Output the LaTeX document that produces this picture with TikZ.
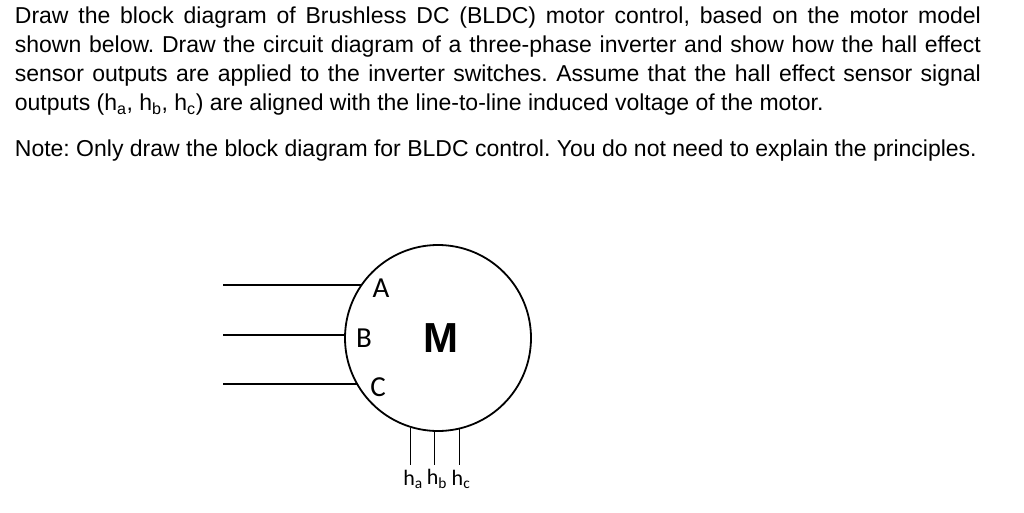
\documentclass[tikz,border=0pt]{standalone}
\usepackage{fontspec}
\setmainfont{Liberation Sans}
\newfontfamily\calib{Carlito}
\usetikzlibrary{positioning}

\begin{document}
\frenchspacing
\begin{tikzpicture}[x=1pt, y=-1pt, line width=1.8pt]
        \useasboundingbox (0,0) rectangle (1024,513);
        \tikzset{wire/.style={line width=2pt}, hall/.style={line width=0.8pt}, lbl/.style={font=\calib\fontsize{29}{29}\selectfont, inner sep=0pt}}

         %question text
        \node[anchor=north west, text width=966pt, align=justify, inner sep=0pt, font=\fontsize{23}{29}\selectfont] (q) at (14,6)
        {Draw the block diagram of Brushless DC (BLDC) motor control, based on the motor model\linebreak
        shown below. Draw the circuit diagram of a three-phase inverter and show how the hall effect\linebreak
        sensor outputs are applied to the inverter switches. Assume that the hall effect sensor signal\linebreak
        outputs (h\textsubscript{a}, h\textsubscript{b}, h\textsubscript{c}) are aligned with the line-to-line induced voltage of the motor.};
        \node[anchor=north west, inner sep=0pt, font=\fontsize{23}{29}\selectfont] (note) at (14,139)
        {Note: Only draw the block diagram for BLDC control. You do not need to explain the principles.};

         %motor
        \node[circle, draw, minimum size=186pt] (M) at (438,338) {};
        \node[font=\rmfamily\bfseries\fontsize{42}{42}\selectfont] (m) at (441,338) {M};

        \coordinate (pA) at (362,285);
        \coordinate (pB) at (345,335);
        \coordinate (pC) at (358,384);
        \coordinate (wA) at (223,285);
        \coordinate (wB) at (223,335);
        \coordinate (wC) at (223,384);

        \node[lbl] (A) at (381,288) {A};
        \node[lbl] (B) at (364,338) {B};
        \node[lbl] (C) at (378,387) {C};

         %Draw phase wires
        \draw[wire] (wA) -- (pA);
        \draw[wire] (wB) -- (pB);
        \draw[wire] (wC) -- (pC);

         %hall sensors
        \coordinate (sa) at (410,428);
        \coordinate (sb) at (434,430);
        \coordinate (sc) at (459,429);
        \node[lbl, font=\calib\fontsize{22}{22}\selectfont] (ha) at (413,479) {h\textsubscript{a}};
        \node[lbl, font=\calib\fontsize{22}{22}\selectfont] (hb) at (437,479) {h\textsubscript{b}};
        \node[lbl, font=\calib\fontsize{22}{22}\selectfont] (hc) at (461,479) {h\textsubscript{c}};

        \draw[hall] (sa) -- (410,465);
        \draw[hall] (sb) -- (434,465);
        \draw[hall] (sc) -- (459,465);
\end{tikzpicture}
\end{document}
